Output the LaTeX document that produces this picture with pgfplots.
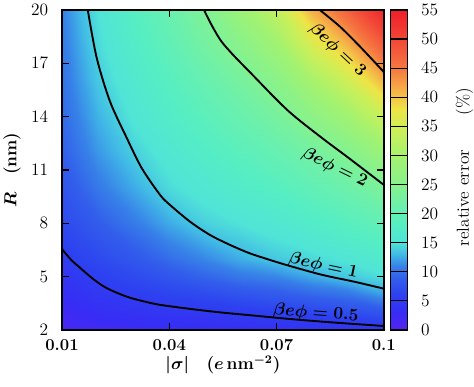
\documentclass[border=0pt]{standalone}
\usepackage{amsmath}
\usepackage{pgfplots}
\pgfplotsset{compat=1.18}
\newcommand\tlf{\fontsize{11.5}{13}\selectfont\bfseries}
\newcommand\lbf{\fontsize{12}{14}\selectfont}
\pgfplotsset{colormap={err}{rgb255(0cm)=(85,35,240); rgb255(3cm)=(55,45,245); rgb255(6cm)=(45,65,240); rgb255(9cm)=(50,95,235); rgb255(11cm)=(55,130,232); rgb255(13cm)=(65,185,230); rgb255(15cm)=(80,228,215); rgb255(18cm)=(85,238,195); rgb255(21cm)=(105,240,175); rgb255(25cm)=(135,242,140); rgb255(30cm)=(165,242,110); rgb255(34cm)=(200,240,90); rgb255(38cm)=(238,228,70); rgb255(41cm)=(245,180,72); rgb255(45cm)=(245,120,65); rgb255(50cm)=(242,70,55); rgb255(55cm)=(240,30,40)}}
\pgfplotsset{base/.style={at={(0pt,0pt)}, anchor=south west, scale only axis, width=222pt, height=220.7pt, xmin=0.01, xmax=0.1, ymin=2, ymax=20}}
\begin{document}
\begin{tikzpicture}
\path[use as bounding box] (-42.8pt,-39.3pt) rectangle (284.2pt,227.6pt);
\begin{axis}[base, hide axis, view={0}{90}, point meta min=0, point meta max=55]
\addplot3[surf, shader=interp, mesh/cols=11] table[x=s, y=R, z=e] {
s R e
0.01 2 1.4
0.015 2 1.7
0.02 2 1.9
0.03 2 2.4
0.04 2 2.7
0.05 2 2.9
0.06 2 3.2
0.07 2 3.5
0.08 2 3.8
0.09 2 4.0
0.1 2 4.4
0.01 3 2.1
0.015 3 2.8
0.02 3 3.3
0.03 3 4.0
0.04 3 4.5
0.05 3 4.9
0.06 3 5.3
0.07 3 5.9
0.08 3 6.4
0.09 3 7.2
0.1 3 8.1
0.01 4 3.2
0.015 4 3.9
0.02 4 4.6
0.03 4 5.5
0.04 4 6.3
0.05 4 7.0
0.06 4 7.9
0.07 4 8.6
0.08 4 9.5
0.09 4 10.3
0.1 4 12.2
0.01 5 4.3
0.015 5 5.0
0.02 5 5.7
0.03 5 6.9
0.04 5 8.0
0.05 5 9.3
0.06 5 10.4
0.07 5 11.1
0.08 5 12.4
0.09 5 13.6
0.1 5 14.7
0.01 6 5.3
0.015 6 6.1
0.02 6 6.8
0.03 6 8.2
0.04 6 9.8
0.05 6 11.2
0.06 6 12.6
0.07 6 13.7
0.08 6 14.4
0.09 6 15.3
0.1 6 16.6
0.01 8 6.8
0.015 8 7.8
0.02 8 8.8
0.03 8 10.6
0.04 8 12.5
0.05 8 14.1
0.06 8 15.0
0.07 8 15.9
0.08 8 17.1
0.09 8 18.6
0.1 8 20.2
0.01 10 8.0
0.015 10 9.2
0.02 10 10.5
0.03 10 12.5
0.04 10 14.5
0.05 10 15.8
0.06 10 17.0
0.07 10 18.3
0.08 10 19.9
0.09 10 21.5
0.1 10 23.6
0.01 12 9.0
0.015 12 10.4
0.02 12 11.8
0.03 12 14.0
0.04 12 15.8
0.05 12 17.5
0.06 12 19.1
0.07 12 20.7
0.08 12 22.5
0.09 12 24.6
0.1 12 28.6
0.01 14 9.6
0.015 14 11.2
0.02 14 12.8
0.03 14 15.3
0.04 14 17.2
0.05 14 19.2
0.06 14 21.0
0.07 14 22.9
0.08 14 25.9
0.09 14 29.3
0.1 14 34.2
0.01 16 10.1
0.015 16 11.9
0.02 16 13.7
0.03 16 16.3
0.04 16 18.5
0.05 16 20.8
0.06 16 22.9
0.07 16 25.6
0.08 16 30.2
0.09 16 34.6
0.1 16 41.2
0.01 18 10.5
0.015 18 12.5
0.02 18 14.5
0.03 18 17.3
0.04 18 19.8
0.05 18 22.5
0.06 18 25.3
0.07 18 29.1
0.08 18 35.5
0.09 18 41.0
0.1 18 47.8
0.01 20 10.9
0.015 20 13.0
0.02 20 15.0
0.03 20 18.2
0.04 20 21.0
0.05 20 24.0
0.06 20 28.5
0.07 20 33.3
0.08 20 41.5
0.09 20 47.4
0.1 20 54.0
};
\end{axis}
\begin{axis}[base, hide axis]
\addplot[black, line width=1.3pt, smooth] coordinates {
(0.01,6.55) (0.0125,5.95) (0.015,5.5) (0.0188,4.85) (0.0225,4.35) (0.0281,3.87) (0.033,3.6) (0.0374,3.41) (0.0467,3.16) (0.055,2.97) (0.064,2.8) (0.0734,2.62) (0.085,2.43) (0.1,2.22)};
\addplot[black, line width=1.3pt, smooth] coordinates {
(0.0172,20) (0.0197,17.3) (0.0234,14.86) (0.0281,12.8) (0.0323,11.1) (0.0374,9.6) (0.0402,9.03) (0.0458,8.09) (0.0514,7.34) (0.057,6.78) (0.0625,6.31) (0.0681,5.94) (0.0733,5.62) (0.0827,5.1) (0.092,4.7) (0.1,4.32)};
\addplot[black, line width=1.3pt, smooth] coordinates {
(0.0497,20) (0.0547,18.2) (0.064,16.2) (0.0734,14.3) (0.0827,12.8) (0.09,11.7) (0.1,10.16)};
\addplot[black, line width=1.3pt, smooth] coordinates {
(0.0821,20) (0.0877,19.07) (0.0933,17.95) (0.0994,16.64) (0.1,16.5)};
\end{axis}
\begin{axis}[base,
  xtick=\empty, ytick=\empty,
  axis line style={line width=1pt},
  point meta min=0, point meta max=55,
  colorbar,
  colorbar style={
    at={(parent axis.north east)}, anchor=north west,
    width=11.7pt,
    xshift=-4pt,
    ytick={0,5,10,15,20,25,30,35,40,45,50,55},
    tick align=inside, major tick length=11.7pt,
    tick style={black, line width=0.8pt},
    axis line style={line width=1pt},
    yticklabel style={font=\tlf, xshift=6pt},
  },
]
\addplot[draw=none, forget plot] coordinates {(0.05,10)};
\end{axis}
\begin{axis}[base,
  xtick={0.01,0.04,0.07,0.1}, xticklabels={0.01,0.04,0.07,0.1},
  ytick={2,5,8,11,14,17,20},
  tick align=inside, major tick length=5pt,
  tick style={black, line width=0.9pt},
  axis line style={line width=1pt},
  ticklabel style={font=\tlf},
  xticklabel style={yshift=-3pt},
  yticklabel style={xshift=-6pt},
]
\addplot[draw=none, forget plot] coordinates {(0.05,10)};
\end{axis}
\node[font=\lbf] at (111pt,-24.1pt) {\bfseries$\boldsymbol{|\sigma|}$\quad($\boldsymbol{e}$\,nm$^{\boldsymbol{-2}}$)};
\node[font=\lbf, rotate=90] at (-34.5pt,110.35pt) {\bfseries$\boldsymbol{R}$\quad(nm)};
\node[font=\lbf, rotate=90] at (277.6pt,112.4pt) {relative error\qquad(\%)};
\node[font=\lbf, rotate=-43] at (190.2pt,193.1pt) {$\boldsymbol{\beta e\phi=3}$};
\node[font=\lbf, rotate=-26] at (188.2pt,111.7pt) {$\boldsymbol{\beta e\phi=2}$};
\node[font=\lbf, rotate=-12] at (180.3pt,44.1pt) {$\boldsymbol{\beta e\phi=1}$};
\node[font=\lbf, rotate=-4] at (175.1pt,11.4pt) {$\boldsymbol{\beta e\phi=0.5}$};
\end{tikzpicture}
\end{document}
